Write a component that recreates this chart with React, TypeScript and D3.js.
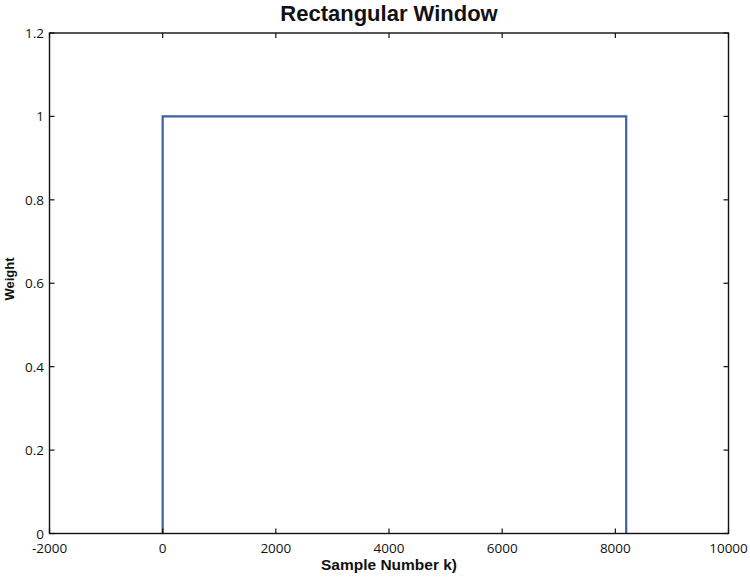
import React from "react";
import * as d3 from "d3";

const sampleX = [0, 0, 8192, 8192];
const weightY = [0, 1, 1, 0];
const xTicks = [-2000, 0, 2000, 4000, 6000, 8000, 10000];
const yTicks = [0, 0.2, 0.4, 0.6, 0.8, 1, 1.2];
const titleText = "Rectangular Window";
const xLabel = "Sample Number k)";
const yLabel = "Weight";

export default function App() {
  const W = 750, H = 580;
  const left = 49.5, right = 728.5, top = 33, bottom = 533.5;
  const x = d3.scaleLinear().domain([-2000, 10000]).range([left, right]);
  const y = d3.scaleLinear().domain([0, 1.2]).range([bottom, top]);
  const pts = sampleX.map((v, i) => [v, weightY[i]] as [number, number]);
  const line = d3.line<[number, number]>().x(d => x(d[0])).y(d => y(d[1]))(pts) || "";
  const tl = 5;
  const font = "'Open Sans', 'Liberation Sans', Arial, sans-serif";
  const bold = "'Liberation Sans', Arial, sans-serif";
  return (
    <svg width={W} height={H} style={{ position: "absolute", left: 0, top: 0, background: "#fff" }}>
      <rect x={0} y={0} width={W} height={H} fill="#fff" />
      <path d={line} fill="none" stroke="#3f5ea3" strokeWidth={2.2} />
      <rect x={left} y={top} width={right - left} height={bottom - top} fill="none" stroke="#111" strokeWidth={1.4} />
      {xTicks.map(t => (
        <g key={"x" + t}>
          <line x1={x(t)} x2={x(t)} y1={bottom} y2={bottom - tl} stroke="#111" strokeWidth={1.2} />
          <line x1={x(t)} x2={x(t)} y1={top} y2={top + tl} stroke="#111" strokeWidth={1.2} />
          <text x={x(t)} y={553} textAnchor="middle" fontFamily={font} fontSize={13.5} fill="#111">{t}</text>
        </g>
      ))}
      {yTicks.map(t => (
        <g key={"y" + t}>
          <line x1={left} x2={left + tl} y1={y(t)} y2={y(t)} stroke="#111" strokeWidth={1.2} />
          <line x1={right} x2={right - tl} y1={y(t)} y2={y(t)} stroke="#111" strokeWidth={1.2} />
          <text x={44} y={y(t) + 5} textAnchor="end" fontFamily={font} fontSize={13.5} fill="#111">{d3.format("~g")(t)}</text>
        </g>
      ))}
      <text x={(left + right) / 2} y={21} textAnchor="middle" fontFamily={bold} fontWeight="bold" fontSize={22} fill="#111">{titleText}</text>
      <text x={(left + right) / 2} y={570} textAnchor="middle" fontFamily={bold} fontWeight="bold" fontSize={15.5} fill="#111">{xLabel}</text>
      <text transform={`translate(14, 279) rotate(-90)`} textAnchor="middle" fontFamily={bold} fontWeight="bold" fontSize={13} fill="#111">{yLabel}</text>
    </svg>
  );
}
